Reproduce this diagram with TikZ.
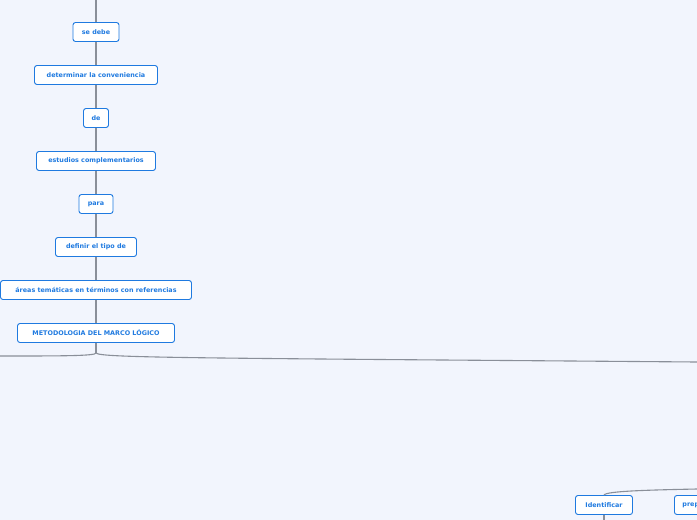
\documentclass[tikz,border=0pt]{standalone}
\usepackage{fontspec}
\setmainfont{DejaVu Sans}
\definecolor{bg}{HTML}{F2F5FD}
\definecolor{bl}{HTML}{1F7AE0}
\definecolor{ln}{HTML}{8A8F99}
\begin{document}
\begin{tikzpicture}[x=1pt,y=-1pt,
  box/.style={draw=bl,line width=0.9pt,fill=white,rounded corners=2.5pt,text=bl,font=\bfseries\fontsize{6.4}{7}\selectfont,minimum height=19pt,inner xsep=6pt,anchor=center},
  conn/.style={draw=ln,line width=1.1pt}]
\fill[bg] (0,0) rectangle (697,520);
\useasboundingbox (0,0) rectangle (697,520);
\clip (0,0) rectangle (697,520);
\coordinate (top) at (96,0);
\coordinate (hub) at (96,353);
\coordinate (L) at (0,356);
\coordinate (R) at (697,362);
\coordinate (R2) at (697,489);
\coordinate (bot) at (604,520);
\draw[conn] (top) -- (hub);
\draw[conn] (hub) .. controls (96,356) and (60,356) .. (L);
\draw[conn] (hub) .. controls (100,358) and (200,358) .. (R);
\node[box,minimum width=46pt] (n1) at (96,32) {se debe};
\node[box,minimum width=123pt] (n2) at (96,75) {determinar la conveniencia};
\node[box,minimum width=25pt] (n3) at (96,118) {de};
\node[box,minimum width=119pt] (n4) at (96,161) {estudios complementarios};
\node[box,minimum width=34pt] (n5) at (96,204) {para};
\node[box,minimum width=81pt] (n6) at (96,247) {definir el tipo de};
\node[box,minimum width=191pt] (n7) at (96,290) {áreas temáticas en términos con referencias};
\node[box,minimum width=157pt] (n8) at (96,333) {METODOLOGIA DEL MARCO LÓGICO};
\node[box,minimum width=57pt] (id) at (604,505) {Identificar};
\draw[conn] (id.north) .. controls (606,491) and (650,490) .. (R2);
\draw[conn] (id.south) -- (bot);
\node[box,anchor=west,inner xsep=8pt] (pr) at (674,505) {preparar};
\end{tikzpicture}
\end{document}
